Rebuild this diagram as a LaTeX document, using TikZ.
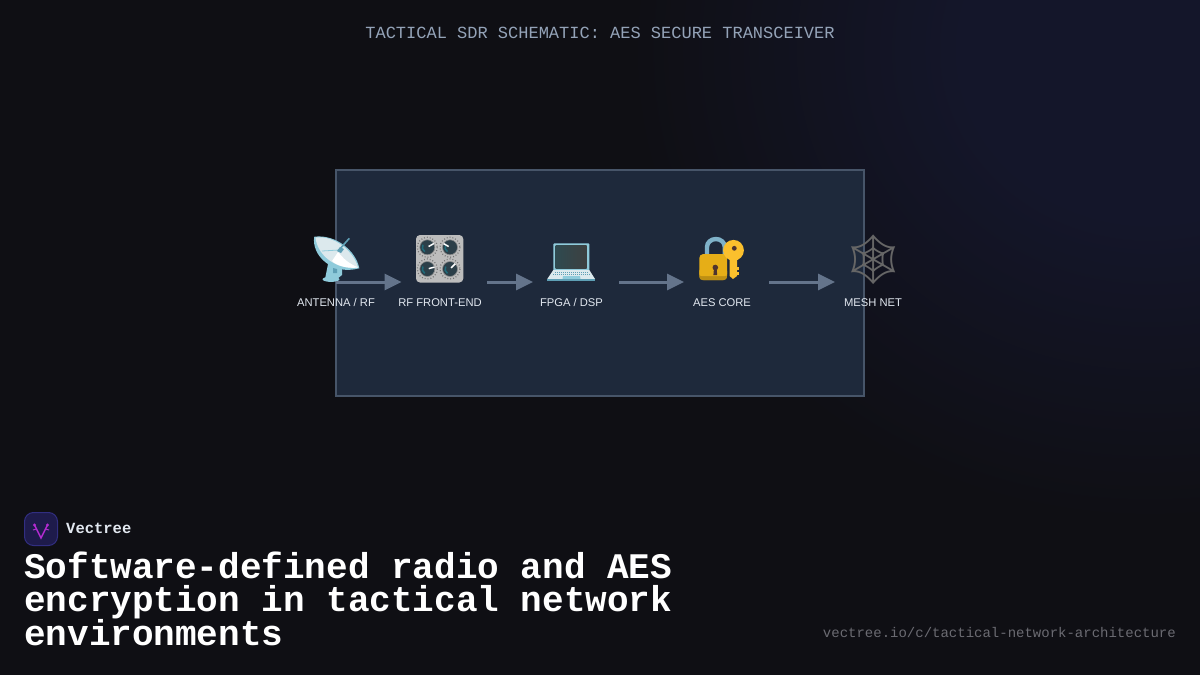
\documentclass[tikz,border=0pt]{standalone}
\usepackage{fontspec}
\setmainfont{Liberation Sans}
\setmonofont{Liberation Mono}
\newfontfamily\emojifont{Noto Emoji}
\usetikzlibrary{arrows.meta, positioning}
\definecolor{pagebase}{HTML}{0F0F14}
\definecolor{pageglow}{HTML}{14162A}
\definecolor{panelfill}{HTML}{1E293B}
\definecolor{panelline}{HTML}{475569}
\definecolor{flowgray}{HTML}{64748B}
\definecolor{headgray}{HTML}{94A3B8}
\definecolor{labelgray}{HTML}{E2E8F0}
\definecolor{urlgray}{HTML}{6B6B72}
\definecolor{dishpale}{HTML}{DCE9ED}
\definecolor{dishblue}{HTML}{8FCBDB}
\definecolor{dishdark}{HTML}{5E9FB5}
\definecolor{knobgray}{HTML}{BDBDBD}
\definecolor{knobdark}{HTML}{2C3F49}
\definecolor{knobteal}{HTML}{1F6B7A}
\definecolor{lockgold}{HTML}{E6AE17}
\definecolor{keygold}{HTML}{FBC02D}
\definecolor{lockblue}{HTML}{7FB2C9}
\definecolor{holebrown}{HTML}{4E342E}
\definecolor{screendark}{HTML}{2F4A50}
\definecolor{webgray}{HTML}{666666}
\definecolor{logofill}{HTML}{1E1B4B}
\definecolor{logoline}{HTML}{312E81}
\definecolor{logopurple}{HTML}{B32BD0}
\pgfdeclareradialshading{cornerglow}{\pgfpointorigin}{color(0bp)=(pageglow); color(9bp)=(pageglow); color(25bp)=(pagebase); color(50bp)=(pagebase)}

\begin{document}
\begin{tikzpicture}[
    x=1pt, y=-1pt,
    stagelabel/.style={font=\fontsize{11.2}{14}\selectfont, text=labelgray, inner sep=0pt, anchor=base},
    flowarr/.style={-{Triangle[length=17pt, width=16pt]}, line width=3pt, flowgray},
    knob/.style={circle, fill=knobdark, draw=#1, line width=0.6pt, minimum size=15pt, inner sep=0pt}
]
\useasboundingbox (0,0) rectangle (1200,675);
\fill[pagebase] (0,0) rectangle (1200,675);
\begin{scope}
\clip (0,0) rectangle (1200,675);
\shade[shading=cornerglow] (1150,50) ellipse (520 and 470);
\end{scope}

\node[font=\ttfamily\fontsize{17}{20}\selectfont, text=headgray, inner sep=0pt, anchor=base] (header) at (600,38) {TACTICAL SDR SCHEMATIC: AES SECURE TRANSCEIVER};

\node[draw=panelline, fill=panelfill, line width=2pt, minimum width=527.5pt, minimum height=226pt, inner sep=0pt] (panel) at (599.9,282.5) {};

% Labels
\node[stagelabel] (antenna) at (336,306) {ANTENNA / RF};
\node[stagelabel] (rffront) at (440,306) {RF FRONT-END};
\node[stagelabel] (fpga) at (571.5,306) {FPGA / DSP};
\node[stagelabel] (aescore) at (722,306) {AES CORE};
\node[stagelabel] (meshnet) at (873,306) {MESH NET};

% Dish
\begin{scope}[shift={(336,259)}]
\fill[dishblue] (-5,20.3) ellipse (8.5 and 2.6);
\fill[dishblue] (-8,5) -- (6,9) -- (6,16) -- (1,20) -- (-11,20) -- cycle;
\fill[dishdark] (-3,9) -- (1,10) -- (1,14) -- (-3,14) -- cycle;
\fill[dishblue] (-21.7,-22.3) .. controls (-25,-5) and (-5,17) .. (23.3,9.3) .. controls (20,-8) and (0,-25) .. cycle;
\fill[dishpale] (-20.5,-21.5) .. controls (-19,-6) and (-3,11) .. (22,8.5) .. controls (18,-7) and (-1,-24) .. cycle;
\fill[white] (2,-7) .. controls (6,-3) and (8,2) .. (22,8.5) .. controls (10,10) and (0,6) .. (-4,2) -- cycle;
\draw[dishblue, line width=0.8pt] (-14,-8) -- (3,-9) -- (9,-16);
\draw[dishdark, line width=1.6pt] (3,-9) -- (13.3,-20.7);
\fill[dishdark] (1,-8) -- (4,-12) -- (8,-10) -- (5,-6) -- cycle;
\end{scope}

% Knobs
\begin{scope}[shift={(439.5,258.5)}]
\fill[knobgray, rounded corners=4pt] (-23.5,-23.5) rectangle (23.8,24);
\foreach \kx/\ky/\ka in {-12.2/-11.2/-30, 10.5/-11.2/-150, -12.2/10.5/-15, 10.5/10.5/-45} {
  \draw[black!55, line width=1.2pt, dash pattern=on 0.9pt off 2pt] (\kx,\ky) circle (10);
  \node[knob=black!45] at (\kx,\ky) {};
  \draw[knobteal, line width=1.5pt] (\kx,\ky) ++(120:5) arc (120:210:5);
  \draw[white, line width=1.5pt] (\kx,\ky) ++(\ka:1.5) -- ++(\ka:6);
}
\end{scope}

% Laptop
\begin{scope}[shift={(571,259)}]
\fill[dishblue, rounded corners=1pt] (-17.7,-15.7) rectangle (18.3,12);
\shade[left color=screendark, right color=holebrown!45!screendark] (-15.3,-13.3) rectangle (15.7,9.3);
\fill[dishpale] (-17.7,11) -- (18.3,11) -- (24,20) -- (-23.7,20) -- cycle;
\draw[dishdark, line width=1pt, dash pattern=on 1pt off 1pt] (-16,13.5) -- (16.5,13.5);
\draw[dishdark, line width=1pt, dash pattern=on 1pt off 1pt] (-18,15.5) -- (18.5,15.5);
\fill[dishblue] (-8,17) -- (9,17) -- (9.5,20) -- (-8.5,20) -- cycle;
\fill[dishdark] (-23.7,20) rectangle (24,21.5);
\end{scope}

% Lock and key
\begin{scope}[shift={(722,259)}]
\draw[lockblue, line width=4.4pt] (-15,-2) -- (-15,-12) arc (180:360:8.9 and 8) -- (2.8,-3);
\fill[lockgold, rounded corners=4pt] (-22.7,-5) rectangle (5,21);
\fill[lockgold!82!black, rounded corners=3pt] (-22.7,15) rectangle (5,21);
\fill[lockgold, rounded corners=2pt] (-22.7,10) rectangle (5,17);
\fill[holebrown] (-6.7,8.5) circle (2.8);
\fill[holebrown] (-8,9) -- (-5.4,9) -- (-4.8,16) -- (-8.6,16) -- cycle;
\fill[keygold] (7.5,-2) -- (15,-2) -- (15,17) -- (11,20) -- (7.5,17) -- cycle;
\fill[keygold] (15,8) rectangle (17,11);
\fill[keygold] (15,13) rectangle (16.6,16);
\fill[keygold] (11.5,-8.7) circle (10.4);
\fill[holebrown] (12.3,-10.7) circle (2.4);
\end{scope}

% Web
\node[font=\emojifont\fontsize{49}{50}\selectfont, text=webgray, inner sep=0pt] (webicon) at (873.5,259.5) {\char"1F578};

% Flow
\coordinate (a1s) at (336,282);
\coordinate (a1e) at (401.5,282);
\coordinate (a2s) at (487,282);
\coordinate (a2e) at (533,282);
\coordinate (a3s) at (619,282);
\coordinate (a3e) at (684,282);
\coordinate (a4s) at (769,282);
\coordinate (a4e) at (835,282);
\draw[flowarr] (a1s) -- (a1e);
\draw[flowarr] (a2s) -- (a2e);
\draw[flowarr] (a3s) -- (a3e);
\draw[flowarr] (a4s) -- (a4e);

% Brand
\node[draw=logoline, fill=logofill, line width=1pt, rounded corners=9pt, minimum size=33pt, inner sep=0pt] (logo) at (41,529) {};
\draw[logopurple, line width=1.4pt] (34.5,525) -- (41,538) -- (47.5,525);
\draw[logopurple, line width=1pt] (36.5,529) -- (33,530);
\draw[logopurple, line width=1pt] (45.5,529) -- (49,530);
\fill[logopurple] (34.5,525) circle (1.7) (47.5,525) circle (1.7);
\node[font=\ttfamily\bfseries\fontsize{15.5}{18}\selectfont, text=labelgray, inner sep=0pt, anchor=base west] (brand) at (66,533) {Vectree};

\node[font=\ttfamily\bfseries\fontsize{36}{32.2}\selectfont, text=white, inner sep=0pt, anchor=north west, align=left] (title) at (24,552) {Software-defined radio and AES\\encryption in tactical network\\environments};
\node[font=\ttfamily\fontsize{14}{16}\selectfont, text=urlgray, inner sep=0pt, anchor=base east] (url) at (1176,637) {vectree.io/c/tactical-network-architecture};

\end{tikzpicture}
\end{document}
